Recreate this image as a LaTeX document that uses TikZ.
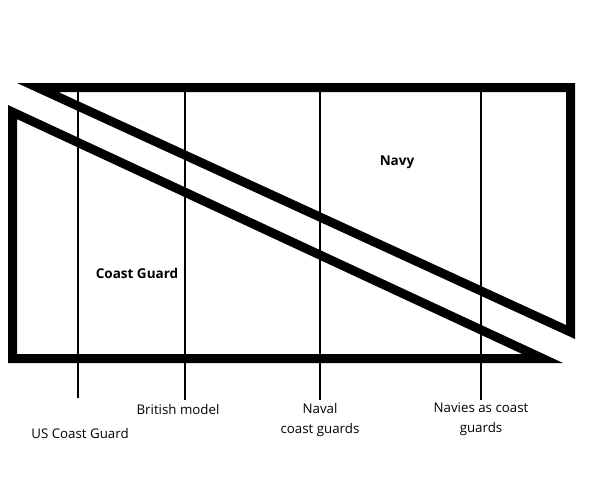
\documentclass[tikz,border=0pt]{standalone}
\usepackage{fontspec}
\setmainfont{Open Sans}
\begin{document}
\begin{tikzpicture}[x=1pt,y=-1pt,
  band/.style={fill=black,even odd rule},
  tick/.style={draw=black,line width=2pt},
  lab/.style={font=\fontsize{13.3}{20}\selectfont,align=center,inner sep=0pt},
  title/.style={font=\fontsize{13.5}{15}\selectfont\bfseries,inner sep=0pt}]
\useasboundingbox (0,0) rectangle (616,499);
% Navy triangle (outline)
\fill[band] (17,83) -- (575,83) -- (575,339) -- cycle
            (58.2,92) -- (566,92) -- (566,325) -- cycle;
% Coast Guard triangle (outline)
\fill[band] (8,105) -- (8,363) -- (563,363) -- cycle
            (17,119.1) -- (17,354) -- (522.2,354) -- cycle;
% tick lines
\coordinate (t1) at (78,92);  \coordinate (b1) at (78,398);
\coordinate (t2) at (185,92); \coordinate (b2) at (185,400);
\coordinate (t3) at (320,92); \coordinate (b3) at (320,400);
\coordinate (t4) at (481,92); \coordinate (b4) at (481,400);
\draw[tick] (t1) -- (b1);
\draw[tick] (t2) -- (b2);
\draw[tick] (t3) -- (b3);
\draw[tick] (t4) -- (b4);
% labels
\node[lab] (usc) at (80,434) {US Coast Guard};
\node[lab] (brit) at (178,410) {British model};
\node[lab,anchor=north] (naval) at (320,403) {Naval\\coast guards};
\node[lab,anchor=north] (navies) at (481,403) {Navies as coast\\guards};
\node[title] (cg) at (137,273) {Coast Guard};
\node[title] (navy) at (397,162) {Navy};
\end{tikzpicture}
\end{document}
